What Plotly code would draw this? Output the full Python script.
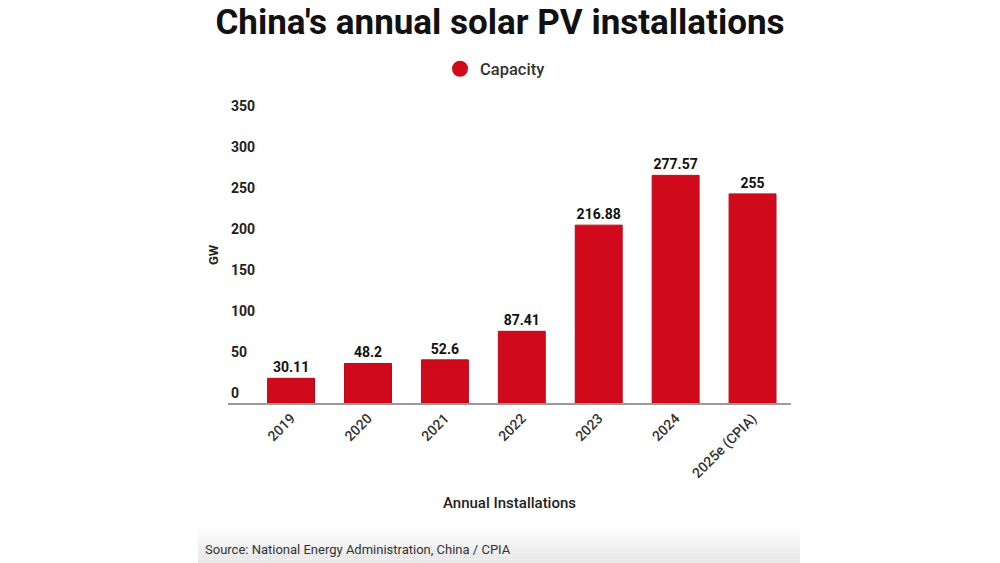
import plotly.graph_objects as go

categories = ["2019", "2020", "2021", "2022", "2023", "2024", "2025e (CPIA)"]
capacity = [30.11, 48.2, 52.6, 87.41, 216.88, 277.57, 255]
y_ticks = [0, 50, 100, 150, 200, 250, 300, 350]

RED = "#d10a1b"
FONT = "Roboto"

Y_MAX = 350
PLOT_H = 287
TOP = 403 - PLOT_H

fig = go.Figure()
fig.add_trace(go.Bar(
    x=categories, y=capacity, name="Capacity",
    marker=dict(color=RED, line=dict(color="#b8081a", width=1)),
    width=0.61,
    text=[str(v) for v in capacity], textposition="outside",
    textfont=dict(family=FONT, size=14, color="#111", weight=700),
    cliponaxis=False, showlegend=False,
))
# legend proxy (circle marker)
fig.add_trace(go.Scatter(
    x=[None], y=[None], mode="markers", name="Capacity",
    marker=dict(symbol="circle", size=17, color=RED),
    showlegend=True,
))

fig.update_layout(
    width=1000, height=563,
    margin=dict(l=228, r=209, t=TOP, b=160),
    paper_bgcolor="white", plot_bgcolor="white",
    font=dict(family=FONT, color="#222"),
    title=dict(text="China's annual solar PV installations",
               x=0.5, xref="container", xanchor="center",
               y=1 - 22 / 563, yref="container", yanchor="middle",
               font=dict(family=FONT, size=35, color="#111", weight=700)),
    legend=dict(orientation="h", x=0.495, xref="container", xanchor="center",
                y=1 - 69 / 563, yref="container", yanchor="middle",
                font=dict(family=FONT, size=16.5, color="#333", weight=500),
                itemwidth=30),
    xaxis=dict(range=[-0.82, 6.5], showline=True, linecolor="#9a9a9a",
               linewidth=1.5, ticks="", tickangle=-45,
               tickfont=dict(family=FONT, size=14, color="#333", weight=500),
               showgrid=False, zeroline=False),
    yaxis=dict(range=[0, Y_MAX], tickvals=y_ticks, ticklabelposition="inside top",
               ticklabeloverflow="allow",
               tickfont=dict(family=FONT, size=14, color="#222", weight=700),
               showgrid=False, zeroline=False, showline=False, ticks=""),
)

def py(px):
    return (403 - px) / PLOT_H

# axis titles
fig.add_annotation(text="GW", xref="paper", yref="paper",
                   x=(213 - 228) / 563, y=py(255), textangle=-90,
                   showarrow=False, xanchor="center", yanchor="middle",
                   font=dict(family=FONT, size=13, color="#222", weight=700))
fig.add_annotation(text="Annual Installations", xref="paper", yref="paper",
                   x=0.5, y=py(503), showarrow=False,
                   xanchor="center", yanchor="middle",
                   font=dict(family=FONT, size=15, color="#222", weight=500))

# footer band (soft gradient)
x0 = (198 - 228) / 563
x1 = (800 - 228) / 563
top, bottom = 528, 563
n = 10
for i in range(n):
    ya = top + (bottom - top) * i / n
    yb = top + (bottom - top) * (i + 1) / n
    g = int(255 - (255 - 232) * (i + 1) / n)
    fig.add_shape(type="rect", xref="paper", yref="paper", layer="below",
                  x0=x0, x1=x1, y0=py(yb), y1=py(ya),
                  line=dict(width=0), fillcolor=f"rgb({g},{g},{g})")
fig.add_annotation(text="Source: National Energy Administration, China / CPIA",
                   xref="paper", yref="paper", x=(203 - 228) / 563,
                   y=py(549), showarrow=False,
                   xanchor="left", yanchor="middle",
                   font=dict(family=FONT, size=13, color="#333"))

fig.write_html("out.html")
